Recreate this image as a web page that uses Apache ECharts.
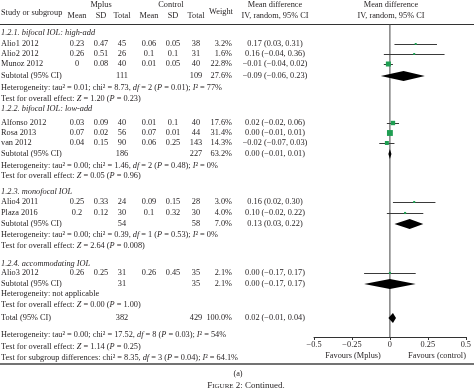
<!DOCTYPE html>
<html><head><meta charset="utf-8">
<script src="https://cdn.jsdelivr.net/npm/echarts@6/dist/echarts.min.js"></script>
<style>html,body{margin:0;padding:0;background:#fff}#c{width:474px;height:391px}</style>
</head><body><div id="c"></div>
<script>
// ---------------- DATA ----------------
const groupNames = ["1.2.1. bifocal IOL: high-add", "1.2.2. bifocal IOL: low-add", "1.2.3. monofocal IOL", "1.2.4. accommodating IOL"];
const studies   = ["Alio1 2012", "Alio2 2012", "Munoz 2012", "Alfonso 2012", "Rosa 2013", "van 2012", "Alio4 2011", "Plaza 2016", "Alio3 2012"];
const studyGroup = [0, 0, 0, 1, 1, 1, 2, 2, 3];
const mplusMean = [0.23, 0.26, 0, 0.03, 0.07, 0.04, 0.25, 0.2, 0.26];
const mplusSD   = [0.47, 0.51, 0.08, 0.09, 0.02, 0.15, 0.33, 0.12, 0.25];
const mplusN    = [45, 26, 40, 40, 56, 90, 24, 30, 31];
const ctrlMean  = [0.06, 0.1, 0.01, 0.01, 0.07, 0.06, 0.09, 0.1, 0.26];
const ctrlSD    = [0.05, 0.1, 0.05, 0.1, 0.01, 0.25, 0.15, 0.32, 0.45];
const ctrlN     = [38, 31, 40, 40, 44, 143, 28, 30, 35];
const weight    = [3.2, 1.6, 22.8, 17.6, 31.4, 14.3, 3.0, 4.0, 2.1];
const md        = [0.17, 0.16, -0.01, 0.02, 0.00, -0.02, 0.16, 0.10, 0.00];
const mdLo      = [0.03, -0.04, -0.04, -0.02, -0.01, -0.07, 0.02, -0.02, -0.17];
const mdHi      = [0.31, 0.36, 0.02, 0.06, 0.01, 0.03, 0.30, 0.22, 0.17];

const subMplusN = [111, 186, 54, 31];
const subCtrlN  = [109, 227, 58, 35];
const subWeight = [27.6, 63.2, 7.0, 2.1];
const subEst    = [0.09, 0.00, 0.13, 0.00];      // diamond centre as drawn
const subEstPrinted = [-0.09, 0.00, 0.13, 0.00]; // as printed in the table
const subLo     = [-0.06, -0.01, 0.03, -0.17];
const subHi     = [0.23, 0.01, 0.22, 0.17];
const subHet = [
  "Heterogeneity: tau² = 0.01; chi² = 8.73, {i|df} = 2 ({i|P} = 0.01); {i|I}² = 77%",
  "Heterogeneity: tau² = 0.00; chi² = 1.46, {i|df} = 2 ({i|P} = 0.48); {i|I}² = 0%",
  "Heterogeneity: tau² = 0.00; chi² = 0.39, {i|df} = 1 ({i|P} = 0.53); {i|I}² = 0%",
  "Heterogeneity: not applicable"
];
const subTest = [
  "Test for overall effect: {i|Z} = 1.20 ({i|P} = 0.23)",
  "Test for overall effect: {i|Z} = 0.05 ({i|P} = 0.96)",
  "Test for overall effect: {i|Z} = 2.64 ({i|P} = 0.008)",
  "Test for overall effect: {i|Z} = 0.00 ({i|P} = 1.00)"
];
const totalMplusN = 382, totalCtrlN = 429, totalWeight = 100.0;
const totalEst = 0.02, totalLo = -0.01, totalHi = 0.04;
const totalHet = "Heterogeneity: tau² = 0.00; chi² = 17.52, {i|df} = 8 ({i|P} = 0.03); {i|I}² = 54%";
const totalTest = "Test for overall effect: {i|Z} = 1.14 ({i|P} = 0.25)";
const subgroupTest = "Test for subgroup differences: chi² = 8.35, {i|df} = 3 ({i|P} = 0.04); {i|I}² = 64.1%";
const xTicks = [-0.5, -0.25, 0, 0.25, 0.5];
const favours = ["Favours (Mplus)", "Favours (control)"];

// ---------------- LAYOUT ----------------
const L = {
  groupY: [33, 109, 192, 264],
  studyY: [44, 54, 64, 123, 133, 143, 202, 213, 273],
  subY:   [76, 154, 224, 284],
  hetY:   [88, 166, 235, 294],
  testY:  [99, 176, 246, 305],
  totalY: 318, totalHetY: 335, totalTestY: 347, subgroupY: 358,
  col: {study: 1, mMean: 77, mSD: 101, mN: 122, cMean: 149, cSD: 173, cN: 196, weight: 232, ci: 275, plot: 391},
  gridTop: 24, gridBottom: 337
};
const FONT = '"Liberation Serif", "DejaVu Serif", serif';
const TXT = '#231f20';
const GREEN = '#1f9e52';
const FS = 8.3;

function fmt(v){ return (v < 0 ? '−' : '') + Math.abs(v).toFixed(2); }
function ciText(e, lo, hi){ return fmt(e) + ' (' + fmt(lo) + ', ' + fmt(hi) + ')'; }
function num(v){ return String(v); }

const texts = [];
function T(text, x, y, align, opt){
  opt = opt || {};
  const fs = opt.size || FS;
  texts.push({
    type: 'text', x: x, y: y, silent: true,
    style: {
      text: text, fill: TXT,
      font: (opt.italic ? 'italic ' : '') + fs + 'px ' + FONT,
      fontFamily: FONT, fontSize: fs, fontStyle: opt.italic ? 'italic' : 'normal',
      textAlign: align || 'left', align: align || 'left',
      textVerticalAlign: 'middle', verticalAlign: 'middle',
      rich: {
        i: {fontStyle: 'italic', fontFamily: FONT, fontSize: fs, fill: TXT},
        sc: {fontFamily: FONT, fontSize: opt.scSize || 7, fill: TXT}
      }
    }
  });
}
const C = L.col;
// header
T('Study or subgroup', C.study, 13);
T('Mplus', C.mSD, 5, 'center');
T('Control', 171, 5, 'center');
['Mean','SD','Total'].forEach((h, k) => T(h, [C.mMean, C.mSD, C.mN][k], 16, 'center'));
['Mean','SD','Total'].forEach((h, k) => T(h, [C.cMean, C.cSD, C.cN][k], 16, 'center'));
T('Weight', 221, 12, 'center');
T('Mean difference', C.ci, 5, 'center');
T('IV, random, 95% CI', C.ci, 16, 'center');
T('Mean difference', C.plot, 5, 'center');
T('IV, random, 95% CI', C.plot, 16, 'center');

groupNames.forEach((g, gi) => {
  T(g, C.study, L.groupY[gi], 'left', {italic: true});
  T('Subtotal (95% CI)', C.study, L.subY[gi]);
  T(num(subMplusN[gi]), C.mN, L.subY[gi], 'center');
  T(num(subCtrlN[gi]), C.cN, L.subY[gi], 'center');
  T(subWeight[gi].toFixed(1) + '%', C.weight, L.subY[gi], 'right');
  T(ciText(subEstPrinted[gi], subLo[gi], subHi[gi]), C.ci, L.subY[gi], 'center');
  T(subHet[gi], C.study, L.hetY[gi]);
  T(subTest[gi], C.study, L.testY[gi]);
});
studies.forEach((s, i) => {
  const y = L.studyY[i];
  T(s, C.study, y);
  T(num(mplusMean[i]), C.mMean, y, 'center');
  T(num(mplusSD[i]), C.mSD, y, 'center');
  T(num(mplusN[i]), C.mN, y, 'center');
  T(num(ctrlMean[i]), C.cMean, y, 'center');
  T(num(ctrlSD[i]), C.cSD, y, 'center');
  T(num(ctrlN[i]), C.cN, y, 'center');
  T(weight[i].toFixed(1) + '%', C.weight, y, 'right');
  T(ciText(md[i], mdLo[i], mdHi[i]), C.ci, y, 'center');
});
T('Total (95% CI)', C.study, L.totalY);
T(num(totalMplusN), C.mN, L.totalY, 'center');
T(num(totalCtrlN), C.cN, L.totalY, 'center');
T(totalWeight.toFixed(1) + '%', C.weight, L.totalY, 'right');
T(ciText(totalEst, totalLo, totalHi), C.ci, L.totalY, 'center');
T(totalHet, C.study, L.totalHetY);
T(totalTest, C.study, L.totalTestY);
T(subgroupTest, C.study, L.subgroupY);
T(favours[0], 353, 356, 'center');
T(favours[1], 437, 356, 'center');
T('(a)', 238, 374, 'center');
T('F{sc|IGURE} 2: Continued.', 246, 386, 'center', {size: 9, scSize: 7});

const rules = [
  {type: 'line', silent: true, shape: {x1: 0, y1: 24.5, x2: 474, y2: 24.5}, style: {stroke: '#333', lineWidth: 1}},
  {type: 'line', silent: true, shape: {x1: 0, y1: 364, x2: 474, y2: 364}, style: {stroke: '#444', lineWidth: 1.5}}
];

// ---------------- CHART ----------------
const chart = echarts.init(document.getElementById('c'), null, {renderer: 'canvas'});
const whiskerData = studies.map((s, i) => [mdLo[i], mdHi[i], L.studyY[i]]);
const pointData = studies.map((s, i) => [md[i], L.studyY[i], weight[i]]);
const diamondData = subEst.map((e, k) => [e, subLo[k], subHi[k], L.subY[k]])
  .concat([[totalEst, totalLo, totalHi, L.totalY]]);

chart.setOption({
  animation: false,
  backgroundColor: '#fff',
  grid: {left: 314, width: 155, top: L.gridTop, height: L.gridBottom - L.gridTop, containLabel: false},
  xAxis: {
    type: 'value', min: -0.5, max: 0.5, interval: 0.25,
    axisLine: {show: true, onZero: false, lineStyle: {color: '#333', width: 1}},
    axisTick: {show: true, length: 3, lineStyle: {color: '#333'}},
    splitLine: {show: false},
    axisLabel: {
      fontFamily: FONT, fontSize: FS, color: TXT, margin: 4, showMinLabel: true, showMaxLabel: true,
      formatter: v => { const t = xTicks.find(x => Math.abs(x - v) < 1e-9); return t === 0 ? '0' : (t < 0 ? '−' : '') + String(Math.abs(t)); }
    }
  },
  yAxis: {type: 'value', min: L.gridTop, max: L.gridBottom, inverse: true, show: false},
  graphic: {elements: rules.concat(texts)},
  series: [
    {
      type: 'line', name: 'zero', data: [[0, L.gridTop], [0, L.gridBottom]],
      symbol: 'none', silent: true, lineStyle: {color: '#444', width: 1}, z: 1
    },
    {
      type: 'custom', name: 'ci', data: whiskerData, encode: {x: [0, 1], y: 2},
      renderItem: (params, api) => {
        const a = api.coord([api.value(0), api.value(2)]);
        const b = api.coord([api.value(1), api.value(2)]);
        const y = Math.round(a[1]) + 0.5;
        return {type: 'line', shape: {x1: a[0], y1: y, x2: b[0], y2: y}, style: {stroke: '#3a3a3a', lineWidth: 1}};
      },
      z: 2
    },
    {
      type: 'scatter', name: 'md', data: pointData, symbol: 'rect',
      symbolSize: v => Math.max(2, Math.sqrt(v[2]) * 1.05),
      itemStyle: {color: GREEN, opacity: 1}, z: 4
    },
    {
      type: 'custom', name: 'pooled', data: diamondData, encode: {x: [0, 1, 2], y: 3},
      renderItem: (params, api) => {
        const y = api.value(3);
        const c = api.coord([api.value(0), y]);
        const l = api.coord([api.value(1), y]);
        const r = api.coord([api.value(2), y]);
        const h = 5;
        return {type: 'polygon', shape: {points: [[l[0], c[1]], [c[0], c[1] - h], [r[0], c[1]], [c[0], c[1] + h]]}, style: {fill: '#000'}};
      },
      z: 5
    }
  ]
});
</script></body></html>
